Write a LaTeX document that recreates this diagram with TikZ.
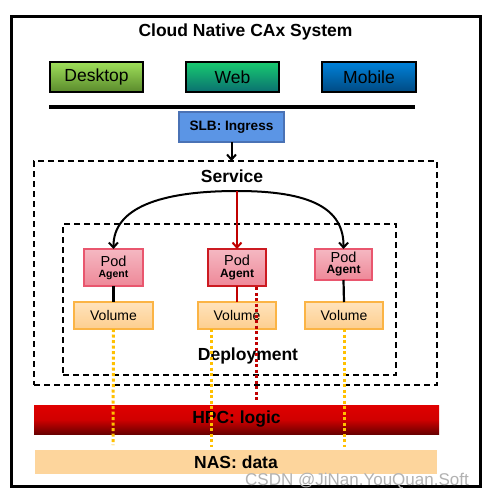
\documentclass[tikz,border=0pt]{standalone}
\usepackage{fontspec}
\setmainfont{Liberation Sans}
\usetikzlibrary{arrows.meta}
\definecolor{podtop}{HTML}{F5B8C2}
\definecolor{podbot}{HTML}{EE8898}
\definecolor{podline}{HTML}{E9566E}
\definecolor{voltop}{HTML}{FFE3BC}
\definecolor{volbot}{HTML}{FDCE8E}
\definecolor{volline}{HTML}{FBB445}
\definecolor{darkred}{HTML}{C00000}
\definecolor{dotyellow}{HTML}{FFC000}
\definecolor{nasfill}{HTML}{FDD59C}
\definecolor{slbfill}{HTML}{5B95E5}
\definecolor{slbline}{HTML}{4A72B5}
\definecolor{dtop}{HTML}{9FE05A}
\definecolor{dbot}{HTML}{5A8A2C}
\definecolor{wtop}{HTML}{18CB70}
\definecolor{wbot}{HTML}{0A7070}
\definecolor{mtop}{HTML}{0082DA}
\definecolor{mbot}{HTML}{004A82}
\definecolor{htop}{HTML}{E00000}
\definecolor{hmid}{HTML}{D00000}
\definecolor{hbot}{HTML}{6A0000}
\tikzset{
  box/.style={inner sep=0pt, outer sep=0pt},
  client/.style={box, draw=black, line width=2pt, minimum width=93, minimum height=30, font=\fontsize{17.5}{18}\selectfont},
  podbox/.style={box, draw=podline, line width=2pt, top color=podtop, bottom color=podbot, align=center},
  volbox/.style={box, draw=volline, line width=2pt, top color=voltop, bottom color=volbot, minimum width=78, minimum height=27, font=\fontsize{14}{14}\selectfont},
  dashbox/.style={box, draw=black, line width=2.2pt, dash pattern=on 6pt off 4pt},
  biglabel/.style={font=\bfseries\fontsize{17.5}{18}\selectfont, inner sep=0pt},
  yellowdot/.style={draw=dotyellow, line width=3pt, dash pattern=on 3pt off 2.5pt},
  reddot/.style={draw=darkred, line width=3pt, dash pattern=on 3pt off 2.5pt},
  arr/.style={-{Straight Barb[length=5pt,width=9pt]}, line width=2pt}
}
\begin{document}
\begin{tikzpicture}[x=1pt,y=-1pt]
\useasboundingbox (0,0) rectangle (496,501);
\fill[white] (0,0) rectangle (496,501);
% outer frame
\node[box, draw=black, line width=3pt, minimum width=469, minimum height=469.5] (frame) at (245.5,251.25) {};
\node[biglabel] (title) at (245.5,32) {Cloud Native CAx System};
% clients
\node[client, top color=dtop, bottom color=dbot] (desktop) at (96.5,77) {Desktop};
\node[client, top color=wtop, bottom color=wbot] (web) at (232.5,77) {Web};
\node[client, top color=mtop, bottom color=mbot, minimum width=94] (mobile) at (369,77) {Mobile};
\coordinate (l1) at (49,107);
\coordinate (l2) at (415,107);
\draw[line width=3.5pt] (l1) -- (l2);
\node[box, draw=slbline, fill=slbfill, line width=2pt, minimum width=105, minimum height=30, font=\bfseries\fontsize{13.6}{14}\selectfont] (slb) at (231.5,127) {SLB: Ingress};
% service and deployment
\node[dashbox, minimum width=403, minimum height=224] (svc) at (235.5,273) {};
\node[biglabel] (svclabel) at (232,176) {Service};
\node[dashbox, minimum width=333, minimum height=151] (dep) at (229.5,299.5) {};
\node[biglabel] (deplabel) at (248,356) {Deployment};
\draw[arr] (slb.south) -- (slb.south |- svc.north);
% pods
\node[podbox, minimum width=59, minimum height=37] (pod1) at (113.5,267.5) {{\fontsize{14.5}{14}\selectfont Pod}\\[-1pt]{\bfseries\fontsize{10.5}{12}\selectfont Agent}};
\node[podbox, draw=darkred!70!podline, minimum width=58, minimum height=37] (pod2) at (237,267.5) {{\fontsize{14.5}{14}\selectfont Pod}\\[-0.5pt]{\bfseries\fontsize{12}{13}\selectfont Agent}};
\node[podbox, minimum width=57, minimum height=31] (pod3) at (343.5,264.5) {{\fontsize{14.5}{14}\selectfont Pod}\\[-1pt]{\bfseries\fontsize{12}{13}\selectfont Agent}};
% volumes
\node[volbox, minimum width=79] (vol1) at (113.5,315.5) {Volume};
\node[volbox] (vol2) at (237,315.5) {Volume};
\node[volbox] (vol3) at (344,315.5) {Volume};
\draw[line width=2.2pt] (pod1.south) -- (vol1.north);
\draw[line width=2.2pt, darkred] (pod2.south) -- (vol2.north);
\draw[line width=2.2pt] (pod3.south) -- (vol3.north);
% service arrows
\coordinate (sp) at (237,191);
\draw[arr] (sp) .. controls (160,191) and (113,208) .. (pod1.north);
\draw[arr] (sp) .. controls (310,191) and (344,208) .. (pod3.north);
\draw[arr, darkred] (sp) -- (pod2.north);
% bars
\node[box, top color=htop, bottom color=hbot, middle color=hmid, minimum width=405, minimum height=29, font=\bfseries\fontsize{17.5}{18}\selectfont] (hpc) at (236.5,419.5) {HPC: logic};
\node[box, fill=nasfill, minimum width=402, minimum height=24, font=\bfseries\fontsize{17.5}{18}\selectfont] (nas) at (236,462) {NAS: data};
% dotted links
\coordinate (y1) at (113,445);
\coordinate (y2a) at (211,329);
\coordinate (y2b) at (211,447);
\coordinate (y3) at (344,447);
\coordinate (r1) at (256,287);
\coordinate (r2) at (256,402);
\draw[yellowdot] (vol1.south) -- (y1);
\draw[yellowdot] (y2a) -- (y2b);
\draw[yellowdot] (vol3.south) -- (y3);
\draw[reddot] (r1) -- (r2);
% watermark
\node[text=gray!60, font=\fontsize{17}{18}\selectfont, inner sep=0pt] (wm) at (357,481) {CSDN @JiNan.YouQuan.Soft};
\end{tikzpicture}
\end{document}
